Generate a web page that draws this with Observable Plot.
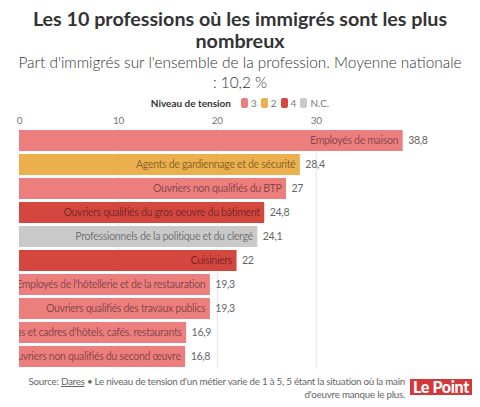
<!DOCTYPE html>
<html><head><meta charset="utf-8">
<script src="https://cdn.jsdelivr.net/npm/d3@7"></script>
<script src="https://cdn.jsdelivr.net/npm/@observablehq/plot@0.6"></script>
<style>
body{margin:0;background:#fff;font-family:Lato,"Open Sans",sans-serif;}
#wrap{position:relative;width:480px;height:407px;overflow:hidden;}
#title{position:absolute;left:0;top:8px;width:480px;text-align:center;font-weight:700;font-size:19.7px;line-height:22px;color:#333;}
#sub{position:absolute;left:0;top:52px;width:480px;text-align:center;font-weight:300;font-size:15.4px;line-height:20px;color:#333;}
#legend{position:absolute;left:0;top:97px;width:480px;text-align:center;font-size:10px;line-height:13px;color:#777;}
#legend b{color:#333;margin-right:6px;}
#legend .sw{display:inline-block;width:7px;height:10px;border-radius:2px;vertical-align:-1px;margin:0 3px 0 4px;}
#chart{position:absolute;left:0;top:108px;}
#chart text{letter-spacing:-0.35px;}
#foot{position:absolute;left:0;top:375px;width:405px;text-align:right;font-size:9.8px;letter-spacing:-0.25px;line-height:13px;color:#666;white-space:nowrap;}
#foot u{color:#666;}
#logo{position:absolute;left:410px;top:379px;width:62px;height:16px;background:#d3383b;color:#fff;font-weight:900;font-size:16px;letter-spacing:-0.3px;line-height:16px;text-align:center;}
</style></head>
<body>
<div id="wrap">
<div id="title">Les 10 professions où les immigrés sont les plus<br>nombreux</div>
<div id="sub">Part d'immigrés sur l'ensemble de la profession. Moyenne nationale<br>: 10,2 %</div>
<div id="legend"></div>
<div id="chart"></div>
<div id="foot">Source: <u>Dares</u> • Le niveau de tension d'un métier varie de 1 à 5, 5 étant la situation où la main<br>d'oeuvre manque le plus.</div>
<div id="logo">Le Point</div>
</div>
<script>
const professions = [
  "Employés de maison",
  "Agents de gardiennage et de sécurité",
  "Ouvriers non qualifiés du BTP",
  "Ouvriers qualifiés du gros oeuvre du bâtiment",
  "Professionnels de la politique et du clergé",
  "Cuisiniers",
  "Employés de l'hôtellerie et de la restauration",
  "Ouvriers qualifiés des travaux publics",
  "Patrons et cadres d'hôtels, cafés, restaurants",
  "Ouvriers non qualifiés du second œuvre"
];
const values = [38.8, 28.4, 27, 24.8, 24.1, 22, 19.3, 19.3, 16.9, 16.8];
const tension = ["3", "2", "3", "4", "N.C.", "4", "3", "3", "3", "3"];
const levels = ["3", "2", "4", "N.C."];
const levelColors = ["#ec7e7e", "#ebb04d", "#d4473f", "#c9c9c9"];
const xTicks = [0, 10, 20, 30];

const data = professions.map((p, i) => ({profession: p, value: values[i], tension: tension[i]}));
const fmt = v => String(v).replace(".", ",");

const lg = document.getElementById("legend");
lg.innerHTML = "<b>Niveau de tension</b>" + levels.map((l, i) =>
  `<span class="sw" style="background:${levelColors[i]}"></span>${l}`).join("");

const chart = Plot.plot({
  width: 480,
  height: 263,
  marginLeft: 19,
  marginRight: 16,
  marginTop: 21,
  marginBottom: 2,
  style: {fontFamily: "Lato, sans-serif", background: "transparent"},
  x: {domain: [0, 45], axis: null, label: null},
  y: {domain: professions, axis: null, paddingInner: 0.12, paddingOuter: 0},
  color: {domain: levels, range: levelColors},
  marks: [
    Plot.ruleX(xTicks.slice(1), {stroke: "#e6e6e6", strokeWidth: 1, insetTop: -4}),
    Plot.barX(data, {x: "value", y: "profession", fill: "tension"}),
    Plot.text(data, {x: "value", y: "profession", text: "profession", textAnchor: "end", dx: -5,
      fill: "#000", fillOpacity: 0.45, fontSize: 10.6, clip: true}),
    Plot.text(data, {x: "value", y: "profession", text: d => fmt(d.value), textAnchor: "start", dx: 5,
      fill: "#666", fontSize: 10.6}),
    Plot.axisX(xTicks, {anchor: "top", label: null, tickSize: 0, tickPadding: 6, fontSize: 10, fill: "#777", tickFormat: d => d})
  ]
});
document.getElementById("chart").appendChild(chart);
</script>
</body></html>
